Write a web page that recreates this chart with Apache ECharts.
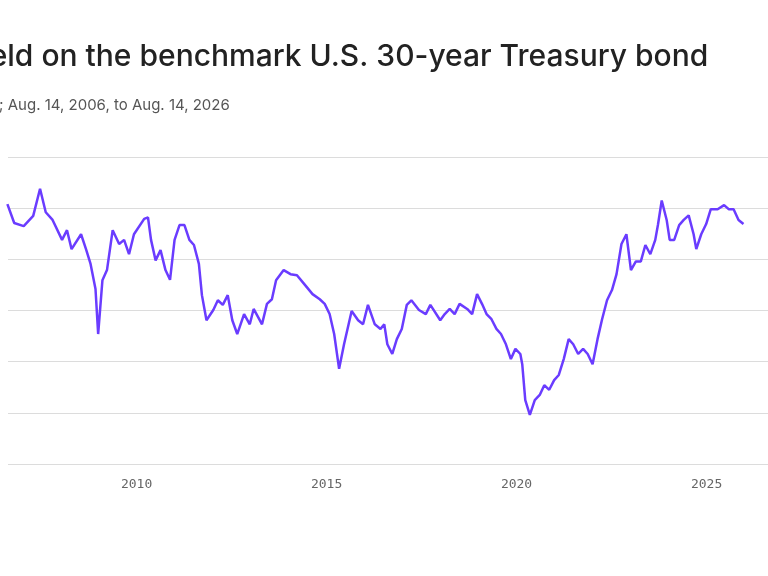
<!DOCTYPE html>
<html>
<head>
<meta charset="utf-8">
<script src="https://cdn.jsdelivr.net/npm/echarts@6/dist/echarts.min.js"></script>
<style>html,body{margin:0;padding:0;background:#fff}#chart{width:768px;height:576px}</style>
</head>
<body>
<div id="chart"></div>
<script>
var myChart = echarts.init(document.getElementById('chart'));

// approximate decimal year of each reading
var years = [2006.6,2006.78,2007.03,2007.28,2007.46,2007.61,2007.79,2008.04,2008.17,2008.29,2008.54,2008.67,2008.79,2008.92,2008.99,2009.1,2009.22,2009.37,2009.54,2009.67,2009.8,2009.93,2010.2,2010.3,2010.38,2010.5,2010.63,2010.76,2010.88,2011.0,2011.13,2011.26,2011.39,2011.51,2011.64,2011.72,2011.84,2012.02,2012.14,2012.27,2012.4,2012.52,2012.65,2012.83,2012.98,2013.08,2013.3,2013.43,2013.56,2013.67,2013.87,2014.05,2014.22,2014.43,2014.63,2014.82,2014.95,2015.08,2015.2,2015.33,2015.46,2015.66,2015.83,2015.96,2016.09,2016.27,2016.42,2016.52,2016.6,2016.73,2016.85,2016.98,2017.11,2017.23,2017.43,2017.61,2017.73,2017.99,2018.11,2018.24,2018.37,2018.5,2018.7,2018.83,2018.96,2019.09,2019.21,2019.34,2019.47,2019.59,2019.72,2019.85,2019.97,2020.1,2020.15,2020.23,2020.35,2020.48,2020.61,2020.73,2020.86,2020.99,2021.11,2021.24,2021.37,2021.49,2021.62,2021.75,2021.87,2022.0,2022.13,2022.25,2022.38,2022.51,2022.63,2022.76,2022.89,2023.01,2023.14,2023.27,2023.39,2023.52,2023.65,2023.72,2023.82,2023.95,2024.03,2024.15,2024.28,2024.4,2024.53,2024.66,2024.73,2024.86,2024.99,2025.11,2025.29,2025.46,2025.58,2025.71,2025.84,2025.97,2026.04];
// yield, percent
var yields = [5.08,4.71,4.65,4.85,5.38,4.92,4.77,4.38,4.57,4.2,4.49,4.2,3.91,3.42,2.54,3.59,3.79,4.57,4.3,4.38,4.1,4.49,4.79,4.82,4.38,3.98,4.18,3.79,3.6,4.38,4.67,4.67,4.38,4.28,3.91,3.3,2.81,3.01,3.2,3.11,3.3,2.81,2.54,2.93,2.73,3.03,2.73,3.13,3.22,3.59,3.79,3.71,3.69,3.5,3.32,3.22,3.13,2.93,2.54,1.86,2.34,2.99,2.81,2.73,3.11,2.73,2.64,2.73,2.34,2.15,2.44,2.64,3.11,3.2,3.01,2.93,3.11,2.81,2.93,3.03,2.93,3.13,3.03,2.93,3.32,3.13,2.93,2.83,2.64,2.54,2.34,2.05,2.25,2.15,1.95,1.25,0.96,1.25,1.35,1.54,1.45,1.64,1.74,2.05,2.44,2.34,2.15,2.25,2.15,1.95,2.44,2.83,3.2,3.4,3.71,4.3,4.49,3.79,3.96,3.96,4.28,4.1,4.38,4.67,5.15,4.77,4.38,4.38,4.67,4.77,4.86,4.49,4.2,4.49,4.69,4.98,4.98,5.06,4.98,4.98,4.77,4.69];

var data = years.map(function (y, i) {
  var yr = Math.floor(y);
  var t = Date.UTC(yr, 0, 1) + (y - yr) * 365.25 * 86400000;
  return [t, yields[i]];
});
var labelEvery = 5;
var YEAR = 365.25 * 86400000;

var option = {
  animation: false,
  graphic: [
    {type: 'text', left: -38, top: 42, style: {text: 'Yield on the benchmark U.S. 30-year Treasury bond', font: '500 30px Inter', fill: '#222'}},
    {type: 'text', left: -36, top: 98, style: {text: 'Daily; Aug. 14, 2006, to Aug. 14, 2026', font: '15px Inter', fill: '#555'}}
  ],
  grid: {left: 8, top: 157, width: 790, height: 307, containLabel: false},
  xAxis: {
    type: 'time',
    min: Date.UTC(2006, 7, 14),
    max: Date.UTC(2026, 7, 14),
    minInterval: YEAR, maxInterval: YEAR,
    axisLine: {show: false},
    axisTick: {show: false},
    splitLine: {show: false},
    axisLabel: {
      hideOverlap: false,
      formatter: function (v) {
        var d = new Date(v), y = d.getUTCFullYear();
        return (d.getUTCMonth() === 0 && y % labelEvery === 0) ? String(y) : '';
      },
      color: '#666', fontFamily: 'DejaVu Sans Mono', fontSize: 13, margin: 14
    }
  },
  yAxis: {
    type: 'value', min: 0, max: 6, interval: 1,
    axisLabel: {show: false},
    splitLine: {lineStyle: {color: '#dcdcdc'}}
  },
  series: [{
    type: 'line', data: data, showSymbol: false,
    lineStyle: {color: '#6a3cff', width: 2.5}
  }]
};
myChart.setOption(option);
</script>
</body>
</html>
